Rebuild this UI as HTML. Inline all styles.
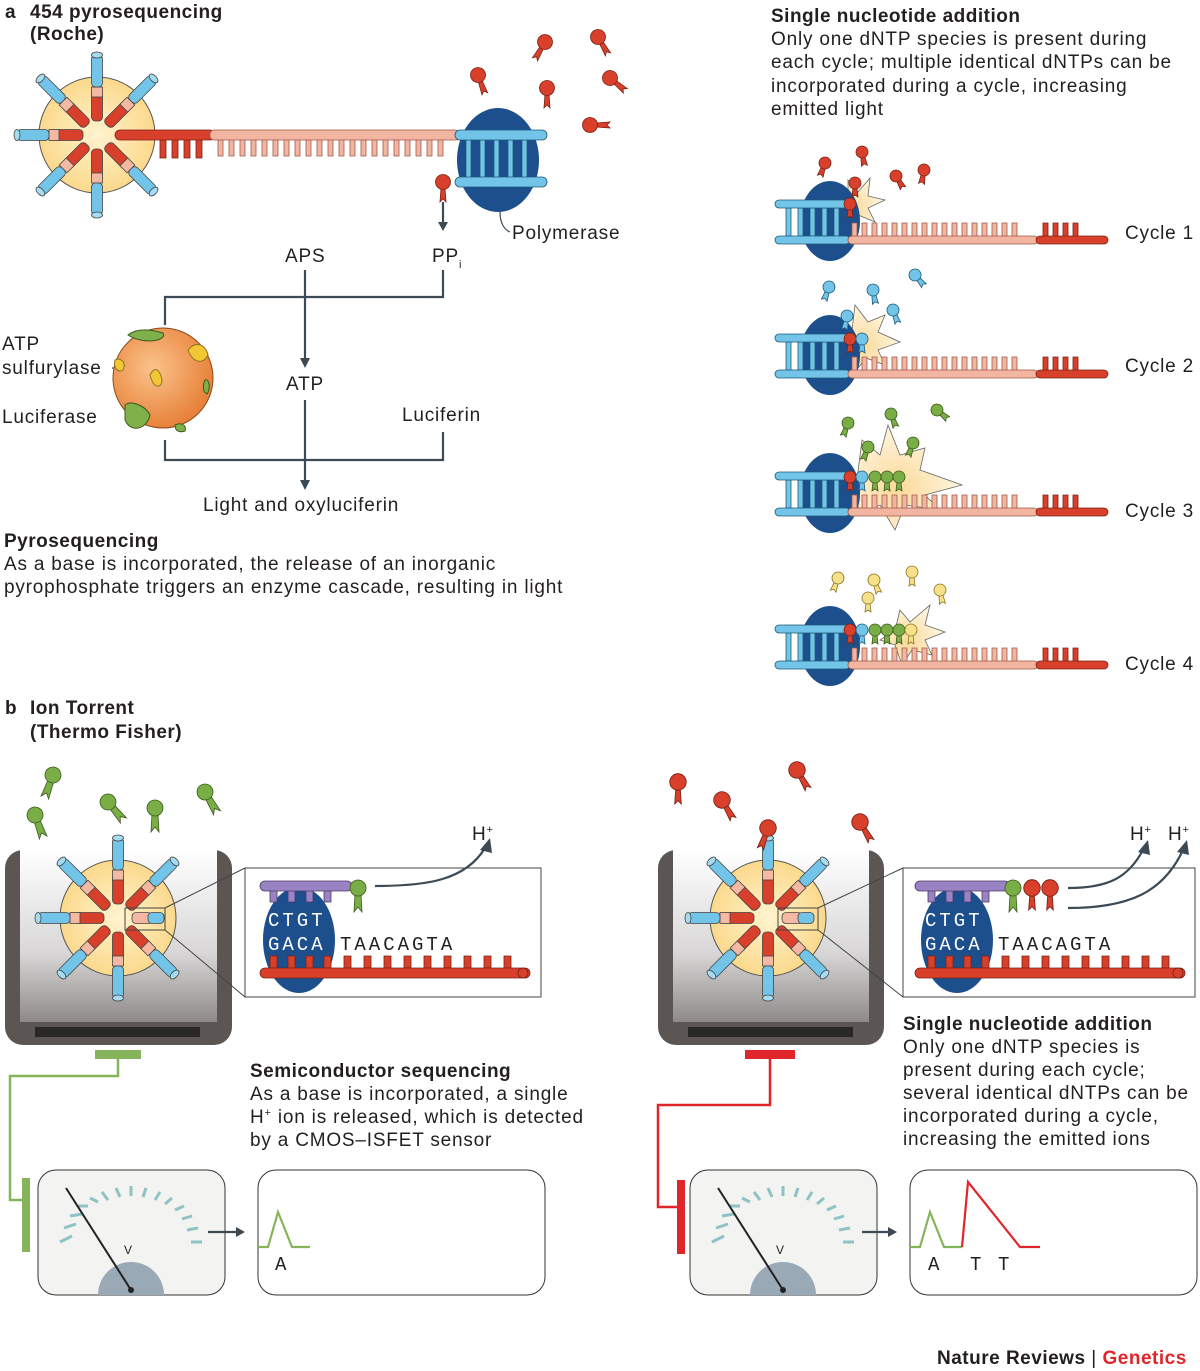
<!DOCTYPE html>
<html><head><meta charset="utf-8"><style>
body{margin:0;background:#fff}
svg{display:block}
text{font-family:"Liberation Sans",sans-serif;fill:#231f20}
.t{font-size:19px;letter-spacing:0.8px}
.b{font-size:19px;font-weight:bold;letter-spacing:0.5px}
.m{font-family:"Liberation Mono",monospace;font-size:19px}
</style></head><body>
<svg width="1200" height="1371" viewBox="0 0 1200 1371" xmlns="http://www.w3.org/2000/svg">
<defs>
<radialGradient id="bead" cx="50%" cy="50%" r="50%"><stop offset="0" stop-color="#fff3cf"/><stop offset="1" stop-color="#fbd98c"/></radialGradient>
<radialGradient id="star" cx="40%" cy="60%" r="60%"><stop offset="0" stop-color="#fbd99a"/><stop offset="1" stop-color="#fff6e0"/></radialGradient>
<radialGradient id="enz" cx="40%" cy="40%" r="60%"><stop offset="0" stop-color="#fbc38a"/><stop offset="1" stop-color="#e8823b"/></radialGradient>
<linearGradient id="well" x1="0" y1="0" x2="0" y2="1"><stop offset="0" stop-color="#ffffff"/><stop offset="0.6" stop-color="#d8d6d6"/><stop offset="1" stop-color="#8e8a89"/></linearGradient>
<g id="spk" stroke="#444" stroke-width="0.8">
<rect x="14" y="-5.5" width="30" height="11" rx="4" fill="#d9402b"/>
<rect x="38" y="-5.5" width="10" height="11" fill="#f5b8a3"/>
<rect x="48" y="-5.5" width="32" height="11" rx="4" fill="#72c4e8"/>
<ellipse cx="80" cy="0" rx="3" ry="5.5" fill="#a6dcf2"/>
</g>
<g id="beadg">
<circle r="58" fill="url(#bead)" stroke="#555" stroke-width="1"/>
<g transform="rotate(45)"><use href="#spk"/></g>
<g transform="rotate(90)"><use href="#spk"/></g>
<g transform="rotate(135)"><use href="#spk"/></g>
<g transform="rotate(180)"><use href="#spk"/></g>
<g transform="rotate(225)"><use href="#spk"/></g>
<g transform="rotate(270)"><use href="#spk"/></g>
<g transform="rotate(315)"><use href="#spk"/></g>
</g>
<g id="beadb">
<use href="#beadg"/>
<g stroke="#444" stroke-width="0.8">
<rect x="14" y="-5.5" width="20" height="11" rx="4" fill="#f5b8a3"/>
<rect x="30" y="-5.5" width="16" height="11" rx="4" fill="#72c4e8"/>
</g>
</g>
<g id="lr" stroke="#7a2216" stroke-width="0.8"><path d="M-2,6 L-3,20 L0,17 L3,20 L2,6Z" fill="#d9402b"/><circle r="7.5" fill="#d9402b"/></g>
<g id="lg" stroke="#3c5a1c" stroke-width="0.8"><path d="M-3,6 L-4,24 L0,19 L4,24 L3,6Z" fill="#79ad45"/><circle r="8" fill="#79ad45"/></g>
<g id="lgs" stroke="#3c5a1c" stroke-width="0.8"><path d="M-2,5 L-3,14 L0,12 L3,14 L2,5Z" fill="#79ad45"/><circle r="6" fill="#79ad45"/></g>
<g id="lbs" stroke="#1d5a78" stroke-width="0.8"><path d="M-2,5 L-3,14 L0,12 L3,14 L2,5Z" fill="#72c4e8"/><circle r="6" fill="#72c4e8"/></g>
<g id="lys" stroke="#8a7420" stroke-width="0.8"><path d="M-2,5 L-3,14 L0,12 L3,14 L2,5Z" fill="#f6e08a"/><circle r="6" fill="#f6e08a"/></g>
<g id="lrs" stroke="#7a2216" stroke-width="0.8"><path d="M-2,5 L-3,14 L0,12 L3,14 L2,5Z" fill="#d9402b"/><circle r="6" fill="#d9402b"/></g>
<g id="cyc" stroke-width="0.8">
<ellipse cx="830" cy="-19" rx="30" ry="40" fill="#1c4f8c"/>
<g stroke="#1d5a78" fill="#72c4e8">
<path d="M786,-32h5v28h-5zM798,-32h5v28h-5zM810,-32h5v28h-5zM822,-32h5v28h-5zM834,-32h5v28h-5z"/>
<rect x="775" y="-40" width="75" height="8" rx="4"/>
<rect x="775" y="-4" width="75" height="8" rx="4"/>
</g>
<g fill="#f2b5a1" stroke="#a05a48">
<path d="M852,-4v-13h5v13M862,-4v-13h5v13M872,-4v-13h5v13M882,-4v-13h5v13M892,-4v-13h5v13M902,-4v-13h5v13M912,-4v-13h5v13M922,-4v-13h5v13M932,-4v-13h5v13M942,-4v-13h5v13M952,-4v-13h5v13M962,-4v-13h5v13M972,-4v-13h5v13M982,-4v-13h5v13M992,-4v-13h5v13M1002,-4v-13h5v13M1012,-4v-13h5v13"/>
<rect x="848" y="-4" width="190" height="8" rx="4"/>
</g>
<g fill="#d9402b" stroke="#7a2216">
<path d="M1043,-4v-13h5v13M1053,-4v-13h5v13M1063,-4v-13h5v13M1073,-4v-13h5v13"/>
<rect x="1036" y="-4" width="72" height="8" rx="4"/>
</g>
</g>
<g id="meter">
<rect x="0" y="0" width="187" height="125" rx="18" fill="#f3f3f1" stroke="#333" stroke-width="1"/>
<path d="M60,125 a33,33 0 0 1 66,0z" fill="#9aa9b6"/>
<g stroke="#8fc2c4" stroke-width="3">
<path d="M22,72l12,-6M26,58l12,-4M32,46l12,-2M40,36l10,0M52,28l8,4M64,22l6,8M78,18l4,9M93,16l0,10M108,18l-3,9M122,22l-5,8M134,28l-7,6M146,36l-9,4M154,46l-10,3M160,58l-11,2M164,72l-11,0"/>
</g>
<line x1="93" y1="120" x2="28" y2="18" stroke="#222" stroke-width="2"/>
<circle cx="93" cy="120" r="3" fill="#222"/>
<text x="86" y="84" style="font-size:12px">V</text>
</g>
</defs>

<!-- PART A -->
<text x="5" y="18" class="b">a</text>
<text x="30" y="18" class="b">454 pyrosequencing</text>
<text x="30" y="40" class="b">(Roche)</text>
<use href="#beadg" transform="translate(97,135)"/>
<ellipse cx="498" cy="160" rx="41" ry="52" fill="#1c4f8c"/>
<g stroke-width="0.8">
<g fill="#d9402b" stroke="#7a2216"><path d="M160,140v18h6v-18M172,140v18h6v-18M184,140v18h6v-18M196,140v18h6v-18"/><rect x="115" y="130" width="100" height="10" rx="5"/></g>
<g fill="#f2b5a1" stroke="#a05a48"><path d="M218,140v16h5v-16M229,140v16h5v-16M240,140v16h5v-16M251,140v16h5v-16M262,140v16h5v-16M273,140v16h5v-16M284,140v16h5v-16M295,140v16h5v-16M306,140v16h5v-16M317,140v16h5v-16M328,140v16h5v-16M339,140v16h5v-16M350,140v16h5v-16M361,140v16h5v-16M372,140v16h5v-16M383,140v16h5v-16M394,140v16h5v-16M405,140v16h5v-16M416,140v16h5v-16M427,140v16h5v-16M438,140v16h5v-16"/><rect x="210" y="130" width="250" height="10" rx="4"/></g>
<g fill="#72c4e8" stroke="#1d5a78"><path d="M466,140h5v38h-5zM480,140h5v38h-5zM494,140h5v38h-5zM508,140h5v38h-5zM522,140h5v38h-5z"/><rect x="455" y="130" width="92" height="10" rx="5"/><rect x="455" y="177" width="92" height="10" rx="5"/></g>
</g>
<use href="#lr" transform="translate(443,182)"/>
<use href="#lr" transform="translate(478,75) rotate(-20)"/>
<use href="#lr" transform="translate(545,42) rotate(30)"/>
<use href="#lr" transform="translate(598,37) rotate(-30)"/>
<use href="#lr" transform="translate(547,88)"/>
<use href="#lr" transform="translate(610,78) rotate(-50)"/>
<use href="#lr" transform="translate(590,125) rotate(-90)"/>
<g stroke="#3b4a55" stroke-width="2.2" fill="none">
<path d="M443,202v22"/><path d="M443,270v27H165v28"/><path d="M305,270v90"/><path d="M305,400v82"/><path d="M443,432v28H165v-20"/>
<path d="M500,212c0,12 5,18 10,20" stroke-width="1.2"/>
<path d="M118,368h-6M135,420h-8" stroke-width="1.2"/>
</g>
<g fill="#3b4a55"><path d="M438,222h10l-5,9z"/><path d="M300,358h10l-5,10z"/><path d="M300,480h10l-5,10z"/></g>
<text x="512" y="239" class="t">Polymerase</text>
<text x="285" y="262" class="t">APS</text>
<text x="432" y="262" class="t">PP<tspan dy="6" style="font-size:11px">i</tspan></text>
<text x="286" y="390" class="t">ATP</text>
<text x="402" y="421" class="t">Luciferin</text>
<text x="203" y="511" class="t">Light and oxyluciferin</text>
<circle cx="163" cy="378" r="50" fill="url(#enz)" stroke="#8a4a1c"/>
<path d="M128,335c10,-8 25,-5 35,-2c5,8 -20,12 -35,2z" fill="#7fb04a" stroke="#3c5a1c"/>
<path d="M188,350c8,-10 18,-5 20,5c-5,10 -15,8 -20,-5z" fill="#f3c734" stroke="#8a7420"/>
<path d="M125,405c5,-5 20,0 25,10c-3,15 -20,18 -25,5z" fill="#7fb04a" stroke="#3c5a1c"/>
<path d="M115,360c5,-3 12,2 8,10c-5,3 -10,-2 -8,-10z" fill="#f3c734" stroke="#8a7420"/>
<path d="M150,375c5,-10 10,-5 12,5c0,8 -8,10 -12,-5z" fill="#f3c734" stroke="#8a7420"/>
<path d="M205,380c4,-2 6,8 2,14c-5,-2 -4,-10 -2,-14z" fill="#7fb04a" stroke="#3c5a1c"/>
<path d="M175,425c6,-3 12,0 10,6c-6,2 -10,0 -10,-6z" fill="#7fb04a" stroke="#3c5a1c"/>
<text x="2" y="350" class="t">ATP</text>
<text x="2" y="374" class="t">sulfurylase</text>
<text x="2" y="423" class="t">Luciferase</text>
<text x="4" y="547" class="b">Pyrosequencing</text>
<text x="4" y="570" class="t">As a base is incorporated, the release of an inorganic</text>
<text x="4" y="593" class="t">pyrophosphate triggers an enzyme cascade, resulting in light</text>

<text x="771" y="22" class="b">Single nucleotide addition</text>
<text x="771" y="45" class="t">Only one dNTP species is present during</text>
<text x="771" y="68" class="t">each cycle; multiple identical dNTPs can be</text>
<text x="771" y="92" class="t">incorporated during a cycle, increasing</text>
<text x="771" y="115" class="t">emitted light</text>

<!-- cycle 1 -->
<polygon points="848,180 858,192 870,178 868,196 885,200 868,208 875,222 858,215 848,225 845,205 832,198 848,195" fill="url(#star)" stroke="#666" stroke-width="0.8"/>
<use href="#cyc" transform="translate(0,240)"/>
<use href="#lrs" transform="translate(850,204)"/>
<use href="#lrs" transform="translate(825,163) rotate(20)"/>
<use href="#lrs" transform="translate(862,152) rotate(-10)"/>
<use href="#lrs" transform="translate(896,176) rotate(-30)"/>
<use href="#lrs" transform="translate(924,170) rotate(10)"/>
<use href="#lrs" transform="translate(855,183)"/>
<text x="1125" y="239" class="t">Cycle 1</text>
<!-- cycle 2 -->
<polygon points="855,305 868,322 885,315 878,332 900,342 878,350 885,365 866,358 855,372 848,350 838,342 852,330" fill="url(#star)" stroke="#666" stroke-width="0.8"/>
<use href="#cyc" transform="translate(0,374)"/>
<use href="#lrs" transform="translate(850,339)"/>
<use href="#lbs" transform="translate(862,339)"/>
<use href="#lbs" transform="translate(829,287) rotate(20)"/>
<use href="#lbs" transform="translate(873,290) rotate(-10)"/>
<use href="#lbs" transform="translate(915,275) rotate(-40)"/>
<use href="#lbs" transform="translate(847,316) rotate(10)"/>
<use href="#lbs" transform="translate(893,310) rotate(-20)"/>
<text x="1125" y="372" class="t">Cycle 2</text>
<!-- cycle 3 -->
<polygon points="862,440 880,455 888,425 900,455 925,448 920,470 962,485 925,495 940,510 905,505 895,530 880,505 860,515 855,495" fill="url(#star)" stroke="#666" stroke-width="0.8"/>
<use href="#cyc" transform="translate(0,512)"/>
<use href="#lrs" transform="translate(850,477)"/>
<use href="#lbs" transform="translate(862,477)"/>
<use href="#lgs" transform="translate(875,477)"/>
<use href="#lgs" transform="translate(887,477)"/>
<use href="#lgs" transform="translate(899,477)"/>
<use href="#lgs" transform="translate(848,423) rotate(20)"/>
<use href="#lgs" transform="translate(891,414) rotate(-20)"/>
<use href="#lgs" transform="translate(937,410) rotate(-50)"/>
<use href="#lgs" transform="translate(868,447) rotate(20)"/>
<use href="#lgs" transform="translate(913,443) rotate(20)"/>
<text x="1125" y="517" class="t">Cycle 3</text>
<!-- cycle 4 -->
<polygon points="900,610 910,622 930,605 925,625 945,632 925,640 932,655 912,650 902,665 895,645 880,640 895,630" fill="url(#star)" stroke="#666" stroke-width="0.8"/>
<use href="#cyc" transform="translate(0,665)"/>
<use href="#lrs" transform="translate(850,630)"/>
<use href="#lbs" transform="translate(862,630)"/>
<use href="#lgs" transform="translate(875,630)"/>
<use href="#lgs" transform="translate(887,630)"/>
<use href="#lgs" transform="translate(899,630)"/>
<use href="#lys" transform="translate(911,630)"/>
<use href="#lys" transform="translate(838,578) rotate(20)"/>
<use href="#lys" transform="translate(874,580) rotate(-20)"/>
<use href="#lys" transform="translate(912,572)"/>
<use href="#lys" transform="translate(940,590) rotate(-10)"/>
<use href="#lys" transform="translate(868,598)"/>
<text x="1125" y="670" class="t">Cycle 4</text>

<!-- PART B -->
<text x="5" y="714" class="b">b</text>
<text x="30" y="714" class="b">Ion Torrent</text>
<text x="30" y="738" class="b">(Thermo Fisher)</text>

<!-- left well -->
<rect x="5" y="850" width="227" height="195" rx="18" fill="#5b5654"/>
<rect x="20" y="850" width="197" height="172" fill="url(#well)"/>
<rect x="35" y="1027" width="165" height="10" fill="#2a2727"/>
<use href="#beadb" transform="translate(118,918)"/>
<rect x="125" y="908" width="40" height="22" fill="none" stroke="#444"/>
<path d="M165,908L245,868M165,930L245,997" stroke="#444" fill="none"/>
<use href="#lg" transform="translate(53,775) rotate(20)"/>
<use href="#lg" transform="translate(108,802) rotate(-40)"/>
<use href="#lg" transform="translate(155,808)"/>
<use href="#lg" transform="translate(205,792) rotate(-30)"/>
<use href="#lg" transform="translate(35,815) rotate(-20)"/>
<rect x="245" y="868" width="296" height="129" fill="#fff" stroke="#444"/>
<ellipse cx="299" cy="940" rx="36" ry="53" fill="#1c4f8c"/>
<g stroke-width="0.8">
<g fill="#9a83c3" stroke="#4a3a6a"><path d="M270,890h7v12h-7zM288,890h7v12h-7zM306,890h7v12h-7zM324,890h7v12h-7z"/><rect x="260" y="881" width="92" height="10" rx="5"/></g>
<g fill="#d9402b" stroke="#7a2216"><path d="M270,956h7v12h-7zM288,956h7v12h-7zM306,956h7v12h-7zM324,956h7v12h-7zM344,956h7v12h-7zM364,956h7v12h-7zM384,956h7v12h-7zM404,956h7v12h-7zM424,956h7v12h-7zM444,956h7v12h-7zM464,956h7v12h-7zM484,956h7v12h-7zM504,956h7v12h-7z"/><rect x="260" y="968" width="270" height="10" rx="5"/><circle cx="523" cy="973" r="5"/></g>
</g>
<use href="#lg" transform="translate(358,888)"/>
<text x="268" y="926" class="m" style="fill:#fff;letter-spacing:3px">CTGT</text>
<text x="268" y="950" class="m" style="fill:#fff;letter-spacing:3px">GACA</text>
<text x="340" y="950" class="m" style="letter-spacing:3px">TAACAGTA</text>
<path d="M375,886c50,0 90,-5 110,-38" stroke="#3b4a55" stroke-width="2.2" fill="none"/>
<path d="M480,850l10,-12l2,15z" fill="#3b4a55"/>
<text x="472" y="840" class="t">H<tspan dy="-7" style="font-size:11px">+</tspan></text>

<rect x="95" y="1050" width="46" height="9" fill="#86b45a"/>
<path d="M118,1059v17H10v124h15" stroke="#86b45a" stroke-width="2.5" fill="none"/>
<rect x="22" y="1178" width="8" height="74" fill="#86b45a"/>
<use href="#meter" transform="translate(38,1170)"/>
<path d="M208,1232h30" stroke="#3b4a55" stroke-width="2.2"/><path d="M236,1227l9,5l-9,5z" fill="#3b4a55"/>
<rect x="258" y="1170" width="287" height="125" rx="18" fill="#fff" stroke="#333"/>
<path d="M258,1247h10l10,-35l14,35h18" stroke="#86b45a" stroke-width="2.2" fill="none"/>
<text x="275" y="1270" class="m">A</text>
<text x="250" y="1077" class="b">Semiconductor sequencing</text>
<text x="250" y="1100" class="t">As a base is incorporated, a single</text>
<text x="250" y="1123" class="t">H<tspan dy="-7" style="font-size:11px">+</tspan><tspan dy="7"> ion is released, which is detected</tspan></text>
<text x="250" y="1146" class="t">by a CMOS–ISFET sensor</text>

<!-- right well -->
<rect x="658" y="850" width="226" height="195" rx="18" fill="#5b5654"/>
<rect x="673" y="850" width="196" height="172" fill="url(#well)"/>
<rect x="688" y="1027" width="165" height="10" fill="#2a2727"/>
<use href="#beadb" transform="translate(768,918)"/>
<rect x="778" y="908" width="40" height="22" fill="none" stroke="#444"/>
<path d="M818,908L903,868M818,930L903,997" stroke="#444" fill="none"/>
<use href="#lr" transform="translate(678,782) scale(1.1)"/>
<use href="#lr" transform="translate(722,800) rotate(-30) scale(1.1)"/>
<use href="#lr" transform="translate(768,828) rotate(20) scale(1.1)"/>
<use href="#lr" transform="translate(797,770) rotate(-30) scale(1.1)"/>
<use href="#lr" transform="translate(860,822) rotate(-30) scale(1.1)"/>
<rect x="903" y="868" width="292" height="129" fill="#fff" stroke="#444"/>
<ellipse cx="957" cy="940" rx="36" ry="53" fill="#1c4f8c"/>
<g stroke-width="0.8">
<g fill="#9a83c3" stroke="#4a3a6a"><path d="M928,890h7v12h-7zM946,890h7v12h-7zM964,890h7v12h-7zM982,890h7v12h-7z"/><rect x="915" y="881" width="95" height="10" rx="5"/></g>
<g fill="#d9402b" stroke="#7a2216"><path d="M928,956h7v12h-7zM946,956h7v12h-7zM964,956h7v12h-7zM982,956h7v12h-7zM1002,956h7v12h-7zM1022,956h7v12h-7zM1042,956h7v12h-7zM1062,956h7v12h-7zM1082,956h7v12h-7zM1102,956h7v12h-7zM1122,956h7v12h-7zM1142,956h7v12h-7zM1162,956h7v12h-7z"/><rect x="915" y="968" width="270" height="10" rx="5"/><circle cx="1178" cy="973" r="5"/></g>
</g>
<use href="#lg" transform="translate(1013,888)"/>
<use href="#lr" transform="translate(1032,888) scale(1.1)"/>
<use href="#lr" transform="translate(1050,888) scale(1.1)"/>
<text x="925" y="926" class="m" style="fill:#fff;letter-spacing:3px">CTGT</text>
<text x="925" y="950" class="m" style="fill:#fff;letter-spacing:3px">GACA</text>
<text x="998" y="950" class="m" style="letter-spacing:3px">TAACAGTA</text>
<path d="M1068,888c40,0 60,-10 75,-38" stroke="#3b4a55" stroke-width="2.2" fill="none"/>
<path d="M1138,852l10,-12l2,15z" fill="#3b4a55"/>
<path d="M1068,908c60,0 95,-15 115,-58" stroke="#3b4a55" stroke-width="2.2" fill="none"/>
<path d="M1177,852l10,-12l2,15z" fill="#3b4a55"/>
<text x="1130" y="840" class="t">H<tspan dy="-7" style="font-size:11px">+</tspan></text>
<text x="1168" y="840" class="t">H<tspan dy="-7" style="font-size:11px">+</tspan></text>

<rect x="745" y="1050" width="50" height="9" fill="#e0262a"/>
<path d="M770,1059v46h-112v102h22" stroke="#e0262a" stroke-width="2.5" fill="none"/>
<rect x="677" y="1180" width="8" height="74" fill="#e0262a"/>
<use href="#meter" transform="translate(690,1170)"/>
<path d="M862,1232h28" stroke="#3b4a55" stroke-width="2.2"/><path d="M888,1227l9,5l-9,5z" fill="#3b4a55"/>
<rect x="910" y="1170" width="287" height="125" rx="18" fill="#fff" stroke="#333"/>
<path d="M910,1247h10l10,-35l14,35h18" stroke="#86b45a" stroke-width="2.2" fill="none"/>
<path d="M962,1247l6,-65l52,65h20" stroke="#e0262a" stroke-width="2.2" fill="none"/>
<text x="928" y="1270" class="m">A</text>
<text x="970" y="1270" class="m">T</text>
<text x="998" y="1270" class="m">T</text>
<text x="903" y="1030" class="b">Single nucleotide addition</text>
<text x="903" y="1053" class="t">Only one dNTP species is</text>
<text x="903" y="1076" class="t">present during each cycle;</text>
<text x="903" y="1099" class="t">several identical dNTPs can be</text>
<text x="903" y="1122" class="t">incorporated during a cycle,</text>
<text x="903" y="1145" class="t">increasing the emitted ions</text>

<text x="937" y="1364" class="b">Nature Reviews <tspan style="font-weight:normal">|</tspan> <tspan style="fill:#e0262a">Genetics</tspan></text>
</svg>
</body></html>
